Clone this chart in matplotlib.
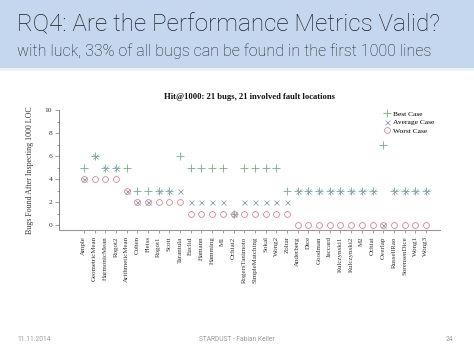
import numpy as np
import matplotlib
matplotlib.use('Agg')
import matplotlib.pyplot as plt
from matplotlib.patches import Rectangle


metrics = ['Ample', 'GeometricMean', 'HarmonicMean', 'Rogot2', 'ArithmeticMean', 'Cohen',
           'Fleiss', 'Rogot1', 'Scott', 'Tarantula', 'Euclid', 'Hamann', 'Hamming', 'M1',
           'Ochiai2', 'RogersTanimoto', 'SimpleMatching', 'Sokal', 'Wong2', 'Zoltar',
           'Anderberg', 'Dice', 'Goodman', 'Jaccard', 'Kulczynski1', 'Kulczynski2', 'M2',
           'Ochiai', 'Overlap', 'RussellRao', 'SorensenDice', 'Wong1', 'Wong3']
best_case = [5, 6, 5, 5, 5, 3, 3, 3, 3, 6, 5, 5, 5, 5, 1, 5, 5, 5, 5, 3,
             3, 3, 3, 3, 3, 3, 3, 3, 7, 3, 3, 3, 3]
average_case = [4, 6, 5, 5, 3, 2, 2, 3, 3, 3, 2, 2, 2, 2, 1, 2, 2, 2, 2, 2,
                3, 3, 3, 3, 3, 3, 3, 3, 0, 3, 3, 3, 3]
worst_case = [4, 4, 4, 4, 3, 2, 2, 2, 2, 2, 1, 1, 1, 1, 1, 1, 1, 1, 1, 1,
              0, 0, 0, 0, 0, 0, 0, 0, 0, 0, 0, 0, 0]

green = '#6db37a'
blue = '#86a2cf'
red = '#e0808f'
serif = ['Liberation Serif', 'DejaVu Serif']

fig = plt.figure(figsize=(4.74, 3.55), dpi=100)

# slide header band
fig.patches.append(Rectangle((0, 0.808), 1, 0.192, transform=fig.transFigure,
                             facecolor='#c4d7ee', edgecolor='none', zorder=0))
fig.patches.append(Rectangle((0, 0.800), 1, 0.008, transform=fig.transFigure,
                             facecolor='#eef3f9', edgecolor='none', zorder=0))
fig.text(0.036, 0.930, 'RQ4: Are the Performance Metrics Valid?', fontsize=17.5,
         family='Roboto', fontweight='light', color='#1e1e1e', va='center', ha='left')
fig.text(0.036, 0.857, 'with luck, 33% of all bugs can be found in the first 1000 lines',
         fontsize=11.5, family='Roboto', fontweight='light', color='#1e1e1e', va='center', ha='left')

# footer
fig.text(0.036, 0.045, '11.11.2014', fontsize=4.8, family='Roboto', color='#999999', va='center')
fig.text(0.5, 0.045, 'STARDUST - Fabian Keller', fontsize=4.8, family='Roboto', color='#999999',
         va='center', ha='center')
fig.text(0.955, 0.045, '24', fontsize=4.8, family='Roboto', color='#999999', va='center', ha='right')

ax = fig.add_axes([0.125, 0.352, 0.803, 0.338])
x = np.arange(1, len(metrics) + 1)

ax.plot(x, best_case, linestyle='none', marker='+', markersize=5.5, markeredgewidth=0.6,
        color=green, label='Best Case')
ax.plot(x, average_case, linestyle='none', marker='x', markersize=3.6, markeredgewidth=0.6,
        color=blue, label='Average Case')
ax.plot(x, worst_case, linestyle='none', marker='o', markersize=4.2, markeredgewidth=0.6,
        markerfacecolor='none', color=red, label='Worst Case')

ax.set_xlim(-1.3, 34.3)
ax.set_ylim(-0.4, 10)
ax.set_xticks(x)
ax.set_xticklabels(metrics, rotation=90, fontsize=5.0, family=serif, color='#333333')
ax.set_yticks([0, 2, 4, 6, 8, 10])
ax.set_yticks([1, 3, 5, 7, 9], minor=True)
for lab in ax.get_yticklabels():
    lab.set_family(serif)
    lab.set_fontsize(5.4)
    lab.set_color('#333333')
ax.tick_params(axis='both', which='both', direction='out', width=0.4, color='#555555')
ax.tick_params(axis='x', length=2.5, pad=2)
ax.tick_params(axis='y', which='major', length=3, pad=2)
ax.tick_params(axis='y', which='minor', length=1.8)
ax.spines['top'].set_visible(False)
ax.spines['right'].set_visible(False)
ax.spines['left'].set_linewidth(0.5)
ax.spines['bottom'].set_linewidth(0.8)
ax.spines['left'].set_color('#555555')
ax.spines['bottom'].set_color('#999999')
ax.set_ylabel('Bugs Found After Inspecting 1000 LOC', fontsize=5.7, family=serif,
              color='#333333', labelpad=8)
ax.set_title('Hit@1000: 21 bugs, 21 involved fault locations', fontsize=6.2, family=serif,
             fontweight='bold', color='#111111', pad=8)

ax.legend(loc='upper right', bbox_to_anchor=(1.0, 1.04), frameon=False,
          prop={'family': serif, 'size': 5.4}, handlelength=0.8, handletextpad=0.4,
          labelspacing=0.3, borderpad=0.2)

plt.savefig('out.png', dpi=100)
